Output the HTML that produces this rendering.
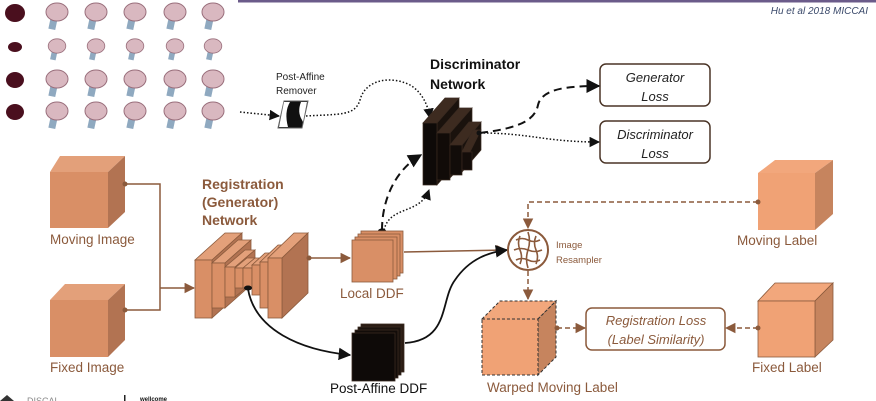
<!DOCTYPE html>
<html><head><meta charset="utf-8"><style>
html,body{margin:0;padding:0;background:#fff;}
svg{display:block;font-family:"Liberation Sans",sans-serif;}
</style></head><body>
<svg width="876" height="401" viewBox="0 0 876 401" xmlns="http://www.w3.org/2000/svg">
<defs>
<marker id="ab" viewBox="0 0 10 10" refX="9" refY="5" markerWidth="7" markerHeight="7" orient="auto"><path d="M0,0 L10,5 L0,10 z" fill="#111"/></marker>
<marker id="ar" viewBox="0 0 10 10" refX="9" refY="5" markerWidth="7" markerHeight="7" orient="auto"><path d="M0,0 L10,5 L0,10 z" fill="#8b5a3c"/></marker>
<g id="brain">
<rect x="-5" y="2" width="7" height="16" fill="#8fa9c0" transform="rotate(12)"/>
<ellipse cx="0" cy="0" rx="11" ry="9" fill="#d9b8c0" stroke="#9a6f7c" stroke-width="1"/>
</g>
</defs>
<rect x="238" y="0" width="638" height="2.5" fill="#6b5b8a"/>
<text x="868" y="14" font-size="10" font-style="italic" fill="#3b4a6b" text-anchor="end">Hu et al 2018 MICCAI</text>

<g>
<ellipse cx="15" cy="13" rx="10" ry="9" fill="#4a0f1e"/>
<ellipse cx="15" cy="47" rx="7" ry="5" fill="#4a0f1e"/>
<ellipse cx="15" cy="80" rx="9" ry="8" fill="#4a0f1e"/>
<ellipse cx="15" cy="112" rx="9" ry="8" fill="#4a0f1e"/>
<g transform="translate(57,12)"><use href="#brain"/></g><g transform="translate(96,12)"><use href="#brain"/></g><g transform="translate(135,12)"><use href="#brain"/></g><g transform="translate(175,12)"><use href="#brain"/></g><g transform="translate(213,12)"><use href="#brain"/></g>
<g transform="translate(57,46) scale(0.8)"><use href="#brain"/></g><g transform="translate(96,46) scale(0.8)"><use href="#brain"/></g><g transform="translate(135,46) scale(0.8)"><use href="#brain"/></g><g transform="translate(175,46) scale(0.8)"><use href="#brain"/></g><g transform="translate(213,46) scale(0.8)"><use href="#brain"/></g>
<g transform="translate(57,79)"><use href="#brain"/></g><g transform="translate(96,79)"><use href="#brain"/></g><g transform="translate(135,79)"><use href="#brain"/></g><g transform="translate(175,79)"><use href="#brain"/></g><g transform="translate(213,79)"><use href="#brain"/></g>
<g transform="translate(57,111)"><use href="#brain"/></g><g transform="translate(96,111)"><use href="#brain"/></g><g transform="translate(135,111)"><use href="#brain"/></g><g transform="translate(175,111)"><use href="#brain"/></g><g transform="translate(213,111)"><use href="#brain"/></g>
</g>

<!-- Post-affine remover -->
<text x="276" y="80" font-size="10" fill="#222">Post-Affine</text>
<text x="276" y="94" font-size="10" fill="#222">Remover</text>
<polygon points="284,101 308,101 302,128 278,128" fill="#111" stroke="#666" stroke-width="1"/>
<path d="M284,102 L290,102 Q284,112 288,127 L279,127 z" fill="#fff"/>
<path d="M307,102 L301,102 Q297,112 302,120 L303,122 z" fill="#fff"/>
<path d="M240,112 L279,116" stroke="#111" stroke-width="1.5" stroke-dasharray="1.5,2" fill="none" marker-end="url(#ab)"/>
<path d="M306,116 C340,114 355,116 360,100 C365,80 390,75 410,85 C422,92 428,105 430,118" stroke="#111" stroke-width="1.5" stroke-dasharray="1.5,2" fill="none" marker-end="url(#ab)"/>

<!-- Discriminator -->
<text x="430" y="69" font-size="14" font-weight="bold" fill="#111">Discriminator</text>
<text x="430" y="89" font-size="14" font-weight="bold" fill="#111">Network</text>
<g stroke="#3a2a20" stroke-width="0.7">
<g><polygon points="423,123 445,98 459,98 437,123" fill="#3d2b20"/><polygon points="437,123 459,98 459,160 437,185" fill="#1a120d"/><rect x="423" y="123" width="14" height="62" fill="#0e0a08"/></g>
<g><polygon points="437,133 459,108 472,108 450,133" fill="#3d2b20"/><polygon points="450,133 472,108 472,155 450,178" fill="#1a120d"/><rect x="437" y="133" width="13" height="47" fill="#110b08"/></g>
<g><polygon points="450,145 469,122 481,122 462,145" fill="#3d2b20"/><polygon points="462,145 481,122 481,150 462,172" fill="#1a120d"/><rect x="450" y="145" width="12" height="30" fill="#120c09"/></g>
<g><polygon points="462,152 473,130 481,130 470,152" fill="#3d2b20"/><rect x="462" y="152" width="10" height="18" fill="#140d0a"/></g>
</g>
<circle cx="479" cy="133" r="2.5" fill="#111"/>

<rect x="600" y="64" width="110" height="42" rx="6" fill="#fff" stroke="#4a3426" stroke-width="1.5"/>
<text x="655" y="82" font-size="13" font-style="italic" text-anchor="middle" fill="#222">Generator</text>
<text x="655" y="101" font-size="13" font-style="italic" text-anchor="middle" fill="#222">Loss</text>
<rect x="600" y="121" width="110" height="42" rx="6" fill="#fff" stroke="#4a3426" stroke-width="1.5"/>
<text x="655" y="139" font-size="13" font-style="italic" text-anchor="middle" fill="#222">Discriminator</text>
<text x="655" y="158" font-size="13" font-style="italic" text-anchor="middle" fill="#222">Loss</text>
<path d="M480,133 C520,128 535,120 538,105 C542,88 570,86 599,86" stroke="#111" stroke-width="2" stroke-dasharray="8,5" fill="none" marker-end="url(#ab)"/>
<path d="M480,133 C530,133 545,142 599,142" stroke="#111" stroke-width="1.5" stroke-dasharray="1.5,2" fill="none" marker-end="url(#ab)"/>

<path d="M382,230 C382,200 395,170 421,155" stroke="#111" stroke-width="2" stroke-dasharray="8,5" fill="none" marker-end="url(#ab)"/>
<path d="M384,230 C390,205 420,215 429,190" stroke="#111" stroke-width="1.5" stroke-dasharray="1.5,2" fill="none" marker-end="url(#ab)"/>
<ellipse cx="382" cy="231" rx="4" ry="2.5" fill="#111"/>

<!-- Moving Image cube -->
<polygon points="50,172 60,156 125,156 108,172" fill="#e3a07a"/>
<polygon points="108,172 125,156 125,212 108,228" fill="#b27352"/>
<rect x="50" y="172" width="58" height="56" fill="#d98f66"/>
<text x="50" y="244" font-size="13.5" fill="#8b5a3c">Moving Image</text>
<polygon points="50,300 65,284 125,284 108,300" fill="#e3a07a"/>
<polygon points="108,300 125,284 125,340 108,357" fill="#b27352"/>
<rect x="50" y="300" width="58" height="57" fill="#d98f66"/>
<text x="50" y="372" font-size="13.5" fill="#8b5a3c">Fixed Image</text>

<path d="M125,184 L160,184 L160,310 L125,310" stroke="#8b5a3c" stroke-width="1.5" fill="none"/>
<circle cx="125" cy="184" r="2.5" fill="#8b5a3c"/><circle cx="125" cy="310" r="2.5" fill="#8b5a3c"/>
<path d="M160,288 L194,288" stroke="#8b5a3c" stroke-width="1.5" fill="none" marker-end="url(#ar)"/>

<text x="202" y="189" font-size="14" font-weight="bold" fill="#8b5a3c">Registration</text>
<text x="202" y="207" font-size="14" font-weight="bold" fill="#8b5a3c">(Generator)</text>
<text x="202" y="225" font-size="14" font-weight="bold" fill="#8b5a3c">Network</text>
<g stroke="#8b5a3c" stroke-width="0.8">
<g><polygon points="195,260 225,233 242,233 212,260" fill="#e3a07a"/><polygon points="212,260 242,233 242,291 212,318" fill="#b27352"/><rect x="195" y="260" width="17" height="58" fill="#d98f66"/></g>
<g><polygon points="212,263 238,240 251,240 225,263" fill="#e3a07a"/><polygon points="225,263 251,240 251,285 225,308" fill="#b27352"/><rect x="212" y="263" width="13" height="45" fill="#d98f66"/></g>
<g><polygon points="225,267 245,250 255,250 235,267" fill="#e3a07a"/><polygon points="235,267 255,250 255,280 235,297" fill="#b27352"/><rect x="225" y="267" width="10" height="30" fill="#d98f66"/></g>
<g><polygon points="235,268 247,258 255,258 243,268" fill="#e3a07a"/><rect x="235" y="268" width="8" height="20" fill="#d98f66"/></g>
<g><polygon points="243,268 255,258 264,258 252,268" fill="#e3a07a"/><rect x="243" y="268" width="9" height="20" fill="#d98f66"/></g>
<g><polygon points="252,265 265,253 273,253 260,265" fill="#e3a07a"/><rect x="252" y="265" width="8" height="30" fill="#d98f66"/></g>
<g><polygon points="260,262 278,245 286,245 268,262" fill="#e3a07a"/><rect x="260" y="262" width="8" height="46" fill="#d98f66"/></g>
<g><polygon points="268,258 294,233 308,233 282,258" fill="#e3a07a"/><polygon points="282,258 308,233 308,293 282,318" fill="#b27352"/><rect x="268" y="258" width="14" height="60" fill="#d98f66"/></g>
</g>
<path d="M309,258 L350,258" stroke="#8b5a3c" stroke-width="1.5" fill="none" marker-end="url(#ar)"/>
<circle cx="309" cy="258" r="2.5" fill="#8b5a3c"/>

<g stroke="#8b5a3c" stroke-width="0.8">
<rect x="361" y="231" width="42" height="42" fill="#d98f66"/>
<rect x="358" y="234" width="42" height="42" fill="#d98f66"/>
<rect x="355" y="237" width="42" height="42" fill="#d98f66"/>
<rect x="352" y="240" width="41" height="42" fill="#d98f66"/>
</g>
<text x="340" y="298" font-size="13.5" fill="#8b5a3c">Local DDF</text>
<path d="M404,252 L506,250" stroke="#8b5a3c" stroke-width="1.5" fill="none" marker-end="url(#ar)"/>

<g stroke="#3a2a20" stroke-width="0.8">
<rect x="361" y="324" width="43" height="48" fill="#2a1c14"/>
<rect x="358" y="327" width="43" height="48" fill="#1a120d"/>
<rect x="355" y="330" width="43" height="48" fill="#120c09"/>
<rect x="352" y="333" width="43" height="48" fill="#0e0a08"/>
</g>
<text x="330" y="393" font-size="13.5" fill="#111">Post-Affine DDF</text>
<path d="M248,289 C255,330 300,350 350,355" stroke="#111" stroke-width="1.8" fill="none" marker-end="url(#ab)"/>
<ellipse cx="248" cy="288" rx="4" ry="2.5" fill="#111"/>
<path d="M405,343 C450,340 440,300 455,280 C470,258 490,252 507,250" stroke="#111" stroke-width="1.8" fill="none" marker-end="url(#ab)"/>

<circle cx="528" cy="250" r="20" fill="#fff" stroke="#8b5a3c" stroke-width="2"/>
<g stroke="#8b5a3c" stroke-width="1.6" fill="none">
<path d="M516,240 q6,-3 12,0 t12,0"/><path d="M514,250 q7,-3 14,0 t14,0"/><path d="M516,260 q6,-3 12,0 t12,0"/>
<path d="M520,236 q-3,7 0,14 t0,14"/><path d="M528,232 q3,9 0,18 t0,18"/><path d="M536,236 q-3,7 0,14 t0,14"/>
</g>
<text x="556" y="248" font-size="9.5" fill="#8b5a3c">Image</text>
<text x="556" y="263" font-size="9.5" fill="#8b5a3c">Resampler</text>

<polygon points="758,173 775,160 833,160 815,173" fill="#f2a77c"/>
<polygon points="815,173 833,160 833,214 815,230" fill="#c6845e"/>
<rect x="758" y="173" width="57" height="57" fill="#f0a275"/>
<text x="737" y="245" font-size="13.5" fill="#8b5a3c">Moving Label</text>
<path d="M758,202 L528,202 L528,228" stroke="#8b5a3c" stroke-width="1.5" stroke-dasharray="5,3" fill="none" marker-end="url(#ar)"/>
<circle cx="758" cy="202" r="2.5" fill="#8b5a3c"/>
<path d="M528,271 L528,299" stroke="#8b5a3c" stroke-width="1.5" stroke-dasharray="5,3" fill="none" marker-end="url(#ar)"/>

<polygon points="482,319 500,301 556,301 538,319" fill="#f2a77c" stroke="#333" stroke-width="1" stroke-dasharray="3,2"/>
<polygon points="538,319 556,301 556,357 538,375" fill="#c6845e" stroke="#333" stroke-width="1" stroke-dasharray="3,2"/>
<rect x="482" y="319" width="56" height="56" fill="#f0a275" stroke="#333" stroke-width="1" stroke-dasharray="3,2"/>
<text x="487" y="392" font-size="13.5" fill="#8b5a3c">Warped Moving Label</text>
<path d="M557,328 L585,328" stroke="#8b5a3c" stroke-width="1.5" stroke-dasharray="5,3" fill="none" marker-end="url(#ar)"/>
<circle cx="557" cy="328" r="2.5" fill="#8b5a3c"/>

<rect x="586" y="308" width="139" height="42" rx="6" fill="#fff" stroke="#8b5a3c" stroke-width="1.5"/>
<text x="656" y="325" font-size="13" font-style="italic" text-anchor="middle" fill="#8b5a3c">Registration Loss</text>
<text x="656" y="344" font-size="13" font-style="italic" text-anchor="middle" fill="#8b5a3c">(Label Similarity)</text>

<polygon points="758,301 775,283 833,283 815,301" fill="#f2a77c" stroke="#8b5a3c" stroke-width="0.8"/>
<polygon points="815,301 833,283 833,340 815,357" fill="#c6845e" stroke="#8b5a3c" stroke-width="0.8"/>
<rect x="758" y="301" width="57" height="56" fill="#f0a275" stroke="#8b5a3c" stroke-width="0.8"/>
<text x="752" y="372" font-size="13.5" fill="#8b5a3c">Fixed Label</text>
<path d="M758,328 L726,328" stroke="#8b5a3c" stroke-width="1.5" stroke-dasharray="5,3" fill="none" marker-end="url(#ar)"/>
<circle cx="758" cy="328" r="2.5" fill="#8b5a3c"/>

<path d="M0,401 L7,395 L14,401 z" fill="#333"/>
<text x="27" y="404" font-size="9" fill="#888">DISCAL</text>
<rect x="124" y="395" width="1.5" height="6" fill="#222"/>
<text x="140" y="401" font-size="6" font-weight="bold" fill="#111">wellcome</text>
</svg>
</body></html>
